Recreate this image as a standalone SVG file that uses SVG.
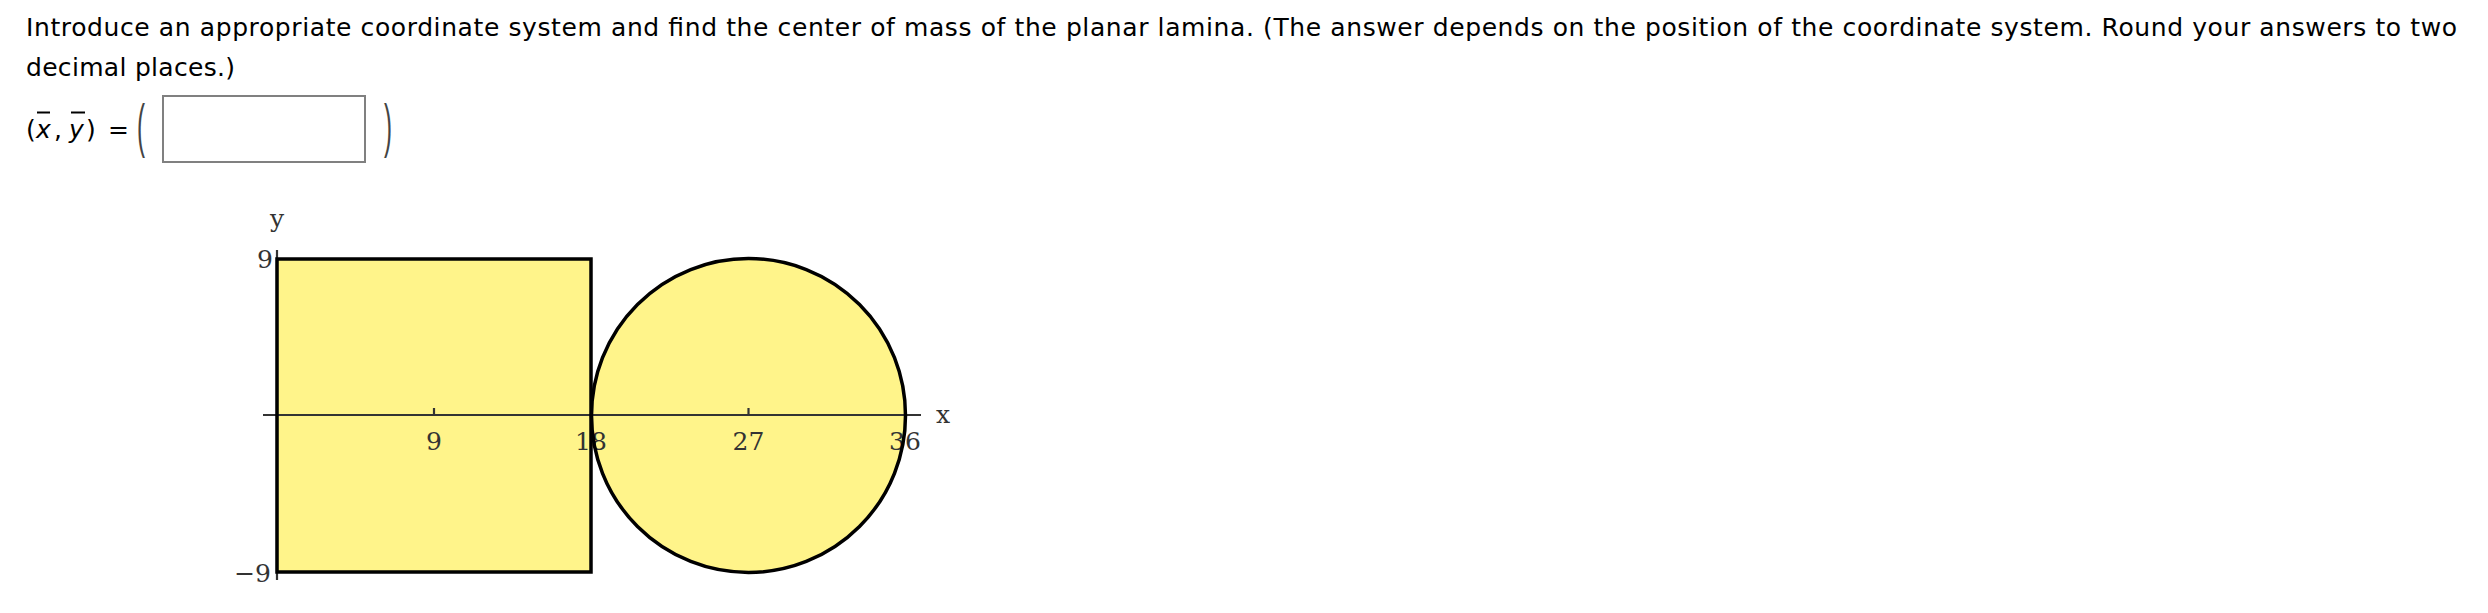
<svg xmlns="http://www.w3.org/2000/svg" width="2488" height="613" viewBox="0 0 2488 613">
<style>
.q{font-family:"DejaVu Sans","Liberation Sans",sans-serif;font-size:25px;fill:#000}
.lab{font-family:"DejaVu Serif","Liberation Serif",serif;font-size:25px;fill:#333}
.fill{fill:#fff48a;stroke:none}
.edge{fill:none;stroke:#000;stroke-width:3.5}
.axis{stroke:#333;stroke-width:2.2;fill:none}
</style>
<rect width="2488" height="613" fill="#fff"/>
<g id="question">
<text class="q" x="26" y="36" textLength="2431" lengthAdjust="spacing">Introduce an appropriate coordinate system and find the center of mass of the planar lamina. (The answer depends on the position of the coordinate system. Round your answers to two</text>
<text class="q" x="26" y="76" textLength="209" lengthAdjust="spacing">decimal places.)</text>
</g>
<g id="answer">
<text class="q" x="26" y="138">(</text>
<text class="q" x="36" y="138" font-style="italic">x</text>
<text class="q" x="54" y="138">,</text>
<text class="q" x="69" y="138" font-style="italic">y</text>
<text class="q" x="86" y="138">)</text>
<text class="q" x="108" y="138">=</text>
<line x1="37" y1="112.5" x2="50" y2="112.5" stroke="#000" stroke-width="2"/>
<line x1="71" y1="112.5" x2="85" y2="112.5" stroke="#000" stroke-width="2"/>
<text font-family="'Liberation Sans',sans-serif" font-size="24" fill="#444" transform="translate(137,146) scale(1,2.5)">(</text>
<rect x="163" y="96" width="202" height="66" fill="#fff" stroke="#808080" stroke-width="2"/>
<text font-family="'Liberation Sans',sans-serif" font-size="24" fill="#444" transform="translate(384,146) scale(1,2.5)">)</text>
</g>
<g id="lamina-fill">
<rect class="fill" x="277" y="259" width="314" height="313"/>
<circle class="fill" cx="748.5" cy="415.5" r="157"/>
</g>
<g id="axes">
<line class="axis" x1="263" y1="415" x2="921" y2="415"/>
<line class="axis" x1="277" y1="250" x2="277" y2="580"/>
<line class="axis" x1="434" y1="408" x2="434" y2="415"/>
<line class="axis" x1="748.5" y1="408" x2="748.5" y2="415"/>
</g>
<g id="labels">
<text class="lab" x="277" y="227" text-anchor="middle">y</text>
<text class="lab" x="943" y="423" text-anchor="middle">x</text>
<text class="lab" x="273" y="268" text-anchor="end">9</text>
<text class="lab" x="271" y="582" text-anchor="end">−9</text>
<text class="lab" x="434" y="450" text-anchor="middle">9</text>
<text class="lab" x="591" y="450" text-anchor="middle">18</text>
<text class="lab" x="748.5" y="450" text-anchor="middle">27</text>
<text class="lab" x="905" y="450" text-anchor="middle">36</text>
</g>
<g id="rectangle">
<rect class="edge" x="277" y="259" width="314" height="313"/>
</g>
<g id="disk">
<circle class="edge" cx="748.5" cy="415.5" r="157"/>
</g>
</svg>
